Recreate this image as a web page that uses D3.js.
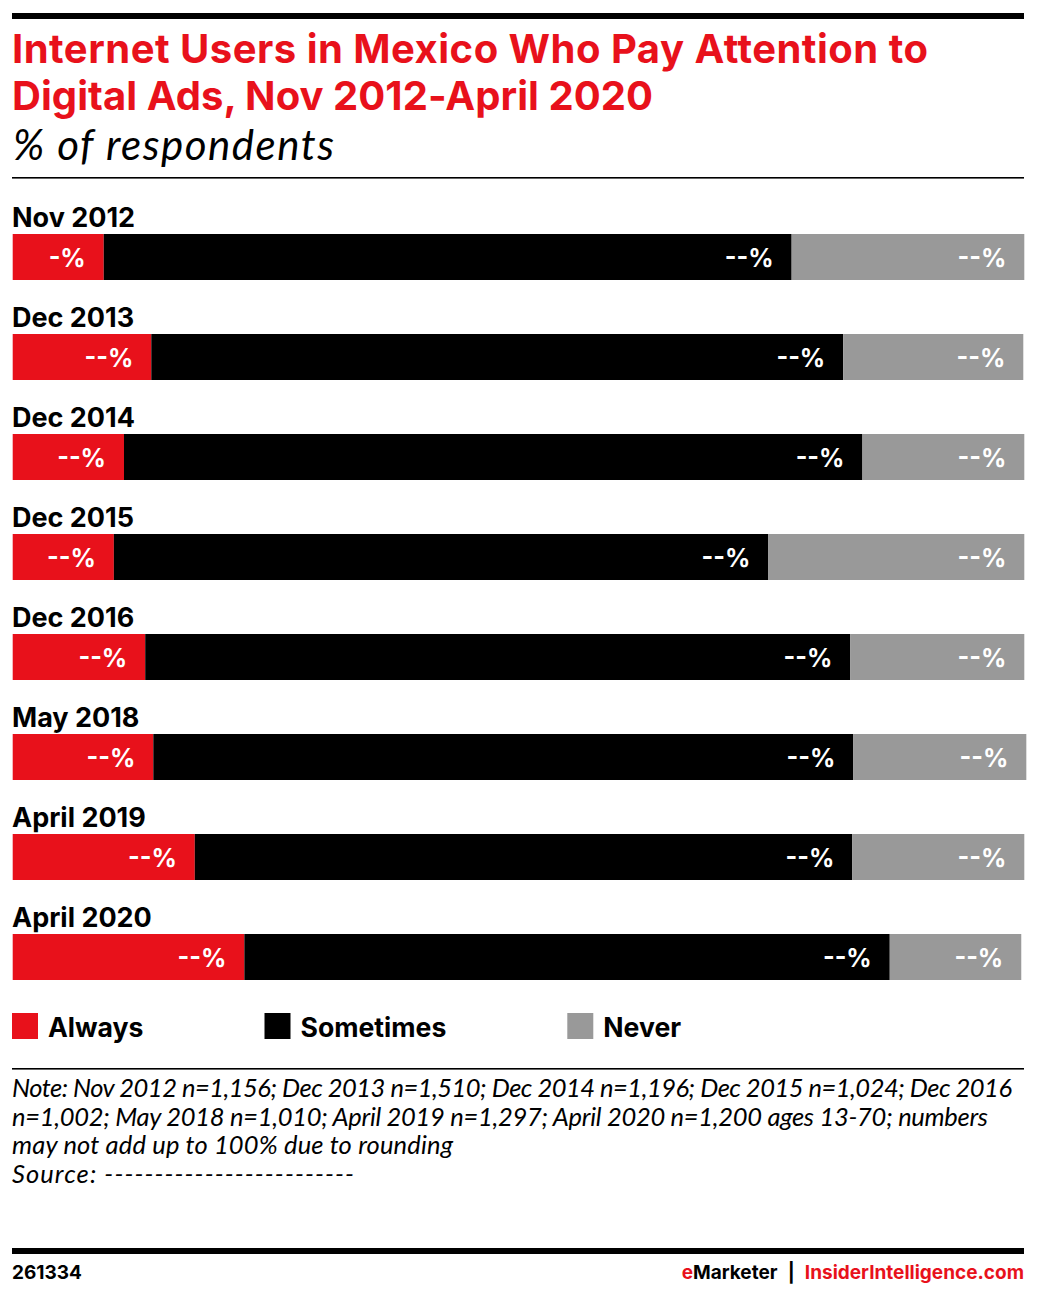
<!DOCTYPE html>
<html>
<head>
<meta charset="utf-8">
<script src="https://cdnjs.cloudflare.com/ajax/libs/d3/7.8.5/d3.min.js"></script>
<style>
  html, body { margin: 0; padding: 0; background: #fff; }
  svg { display: block; }
  .bold { font-family: Inter, "Noto Sans", sans-serif; font-weight: 700; }
  .ital { font-family: Lato, "Open Sans", sans-serif; font-style: italic; font-weight: 400; }
</style>
</head>
<body>
<svg class="chart" width="1038" height="1297"></svg>
<script>
(function () {
    'use strict';

    var categories = ['Nov 2012', 'Dec 2013', 'Dec 2014', 'Dec 2015', 'Dec 2016', 'May 2018', 'April 2019', 'April 2020'];
    var seriesNames = ['Always', 'Sometimes', 'Never'];
    var always = [9.0, 13.7, 11.0, 10.0, 13.1, 13.9, 18.0, 22.9];
    var sometimes = [68.0, 68.4, 73.0, 64.7, 69.7, 69.2, 65.0, 63.8];
    var never = [23.0, 17.8, 16.0, 25.3, 17.2, 17.1, 17.0, 13.0];
    var colors = ['#e8111b', '#000000', '#999999'];

    var red = '#e8111b', left = 12.7, right = 1024.3;

    var svg = d3.select('.chart');

    // fit a text node to a target width by adjusting letter spacing
    function fit(sel, target) {
        var node = sel.node(), n = sel.text().length, w = node.getComputedTextLength();
        sel.attr('letter-spacing', ((target - w) / (n - 1)).toFixed(3));
        return sel;
    }

    // top rules
    svg.append('rect').attr('x', 12).attr('y', 13).attr('width', 1012).attr('height', 6).attr('fill', '#000');
    svg.append('rect').attr('x', 12).attr('y', 177).attr('width', 1012).attr('height', 1.6).attr('fill', '#000');

    fit(svg.append('text').attr('class', 'bold').attr('x', 12).attr('y', 63)
        .attr('font-size', 40).attr('fill', red)
        .text('Internet Users in Mexico Who Pay Attention to'), 916);
    fit(svg.append('text').attr('class', 'bold').attr('x', 12).attr('y', 110)
        .attr('font-size', 40).attr('fill', red)
        .text('Digital Ads, Nov 2012-April 2020'), 641);
    fit(svg.append('text').attr('class', 'ital').attr('x', 13).attr('y', 160)
        .attr('font-size', 42).attr('font-weight', 300).attr('fill', '#000')
        .text('% of respondents'), 321);

    // data table + stack
    var table = categories.map(function (c, i) {
        return {category: c, Always: always[i], Sometimes: sometimes[i], Never: never[i]};
    });
    var stacked = d3.stack().keys(seriesNames)(table);

    var x = d3.scaleLinear().domain([0, 100]).range([left, right]);
    var y = d3.scaleBand().domain(categories).range([207, 1007]).paddingInner(0.54).paddingOuter(0.27);

    // category labels
    svg.append('g').selectAll('text').data(categories).enter().append('text')
        .attr('class', 'bold')
        .attr('x', 12)
        .attr('y', function (d) { return y(d) - 7; })
        .attr('font-size', 27)
        .attr('fill', '#000')
        .text(function (d) { return d; });

    var layers = svg.append('g').selectAll('g').data(stacked).enter().append('g')
        .attr('fill', function (d, i) { return colors[i]; });

    layers.selectAll('rect').data(function (d) { return d; }).enter().append('rect')
        .attr('x', function (d) { return x(d[0]); })
        .attr('y', function (d) { return y(d.data.category); })
        .attr('width', function (d) { return x(d[1]) - x(d[0]); })
        .attr('height', y.bandwidth());

    // value labels (digits masked as in the source)
    layers.selectAll('text').data(function (d) { return d; }).enter().append('text')
        .attr('class', 'bold')
        .attr('font-weight', 600)
        .attr('x', function (d) { return x(d[1]) - 18; })
        .attr('y', function (d) { return y(d.data.category) + y.bandwidth() / 2 + 10; })
        .attr('text-anchor', 'end')
        .attr('font-size', 25)
        .attr('fill', '#fff')
        .text(function (d) {
            return String(Math.round(d[1] - d[0])).replace(/\d/g, '-') + '%';
        });

    // legend
    var legend = svg.append('g'), lx = 12;
    seriesNames.forEach(function (name, i) {
        legend.append('rect').attr('x', lx).attr('y', 1013).attr('width', 26).attr('height', 26)
            .attr('fill', colors[i]);
        var t = legend.append('text').attr('class', 'bold').attr('font-weight', 600)
            .attr('x', lx + 36).attr('y', 1037).attr('font-size', 26.6).attr('fill', '#000').text(name);
        lx += 36 + t.node().getComputedTextLength() + 121;
    });

    svg.append('rect').attr('x', 12).attr('y', 1068).attr('width', 1012).attr('height', 1.6).attr('fill', '#000');

    var notes = [
        'Note: Nov 2012 n=1,156; Dec 2013 n=1,510; Dec 2014 n=1,196; Dec 2015 n=1,024; Dec 2016',
        'n=1,002; May 2018 n=1,010; April 2019 n=1,297; April 2020 n=1,200 ages 13-70; numbers',
        'may not add up to 100% due to rounding',
        'Source: -------------------------'
    ];
    var noteWidths = [1000, 976, 441, 342];
    notes.forEach(function (line, i) {
        fit(svg.append('text').attr('class', 'ital').attr('x', 12).attr('y', 1097 + i * 28.5)
            .attr('font-size', 25.5).attr('fill', '#000').text(line), noteWidths[i]);
    });

    // footer
    svg.append('rect').attr('x', 12).attr('y', 1248).attr('width', 1012).attr('height', 6).attr('fill', '#000');
    svg.append('text').attr('class', 'bold').attr('x', 12).attr('y', 1279)
        .attr('font-size', 19).attr('fill', '#000').text('261334');

    var foot = svg.append('text').attr('class', 'bold').attr('x', 1024).attr('y', 1279)
        .attr('font-size', 19).attr('text-anchor', 'end');
    foot.append('tspan').attr('fill', red).text('e');
    foot.append('tspan').attr('fill', '#000').text('Marketer');
    foot.append('tspan').attr('fill', '#000').attr('dx', 10).text('|');
    foot.append('tspan').attr('fill', red).attr('dx', 10).text('InsiderIntelligence.com');
}());
</script>
</body>
</html>
